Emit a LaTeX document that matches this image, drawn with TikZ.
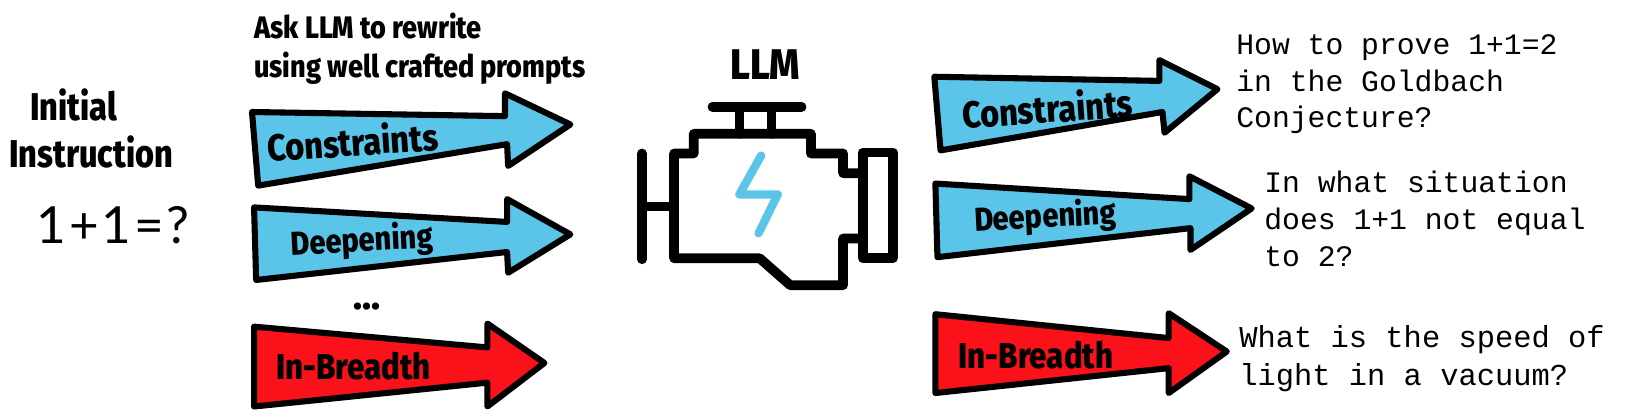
\documentclass[tikz,border=0pt]{standalone}
\usepackage{fontspec}
\setmainfont{Fira Sans}[BoldFont=* ExtraBold]
\newfontfamily\monof{Liberation Mono}
\newfontfamily\thinf{Lato}
\definecolor{skyb}{HTML}{5AC5E8}
\definecolor{redb}{HTML}{FB111A}
\tikzset{
  arrowblue/.style={draw=black,fill=skyb,line width=4.4pt,line join=round},
  arrowred/.style={draw=black,fill=redb,line width=4.4pt,line join=round},
  lab/.style={inner sep=0pt,text=black,font=\bfseries},
  mono/.style={inner sep=0pt,anchor=north west,align=left,text=black},
  eng/.style={draw=black,line width=7pt,line join=round,line cap=round},
  bolt/.style={draw=skyb,line width=6pt,line join=round,line cap=round},
}
\begin{document}
\begin{tikzpicture}[x=0.75pt,y=-0.75pt]
\useasboundingbox (0,0) rectangle (1568,401);
% left arrows
\draw[arrowblue] (243,108)--(487,112)--(487,90)--(550,120)--(490,160)--(489,139)--(249,179)--cycle;
\draw[arrowblue] (245,200)--(489,214)--(489,192)--(550,226)--(490,263)--(489,243)--(247,270)--cycle;
\draw[arrowred] (245,315)--(470,335)--(470,312)--(525,350)--(470,392)--(470,369)--(245,392)--cycle;
% right arrows
\draw[arrowblue] (901,74)--(1118,78)--(1118,58)--(1174,86)--(1123,128)--(1121,108)--(907,145)--cycle;
\draw[arrowblue] (902,177)--(1147,192)--(1147,170)--(1207,201)--(1148,241)--(1148,220)--(904,248)--cycle;
\draw[arrowred] (902,303)--(1127,326)--(1127,302)--(1183,339)--(1127,379)--(1127,355)--(902,379)--cycle;
% engine
\draw[eng] (619,148)--(619,250) (619,199)--(650,199);
\draw[eng] (832,167)--(813,167)--(813,148)--(782,148)--(782,129)--(669,129)--(669,148)--(650,148)--(650,249)--(732.5,249)--(762,275)--(813,275)--(813,230)--(832,230);
\draw[eng] (832,147) rectangle (861,249);
\draw[eng] (687,103)--(773,103) (713,103)--(713,129) (744,103)--(744,129);
\draw[bolt] (734,150)--(713,187.5)--(750,187.5)--(731.5,225);
% labels
\node[lab,rotate=4] (c1) at (340,136) {\fontsize{27}{27}\selectfont\scalebox{0.87}[1]{Constraints}};
\node[lab,rotate=3] (d1) at (349,233) {\fontsize{24}{24}\selectfont\scalebox{0.87}[1]{Deepening}};
\node[lab] (b1) at (341,353) {\fontsize{26}{26}\selectfont\scalebox{0.87}[1]{In-Breadth}};
\node[lab,rotate=4] (c2) at (1010,104) {\fontsize{27}{27}\selectfont\scalebox{0.87}[1]{Constraints}};
\node[lab,rotate=3] (d2) at (1008,210) {\fontsize{24}{24}\selectfont\scalebox{0.87}[1]{Deepening}};
\node[lab] (b2) at (999,342) {\fontsize{26}{26}\selectfont\scalebox{0.87}[1]{In-Breadth}};
\node[lab,anchor=base west] (ask) at (245,37) {\fontsize{22.5}{22.5}\selectfont\scalebox{0.87}[1]{Ask LLM to rewrite}};
\node[lab,anchor=base west] (use) at (245,75) {\fontsize{22.5}{22.5}\selectfont\scalebox{0.87}[1]{using well crafted prompts}};
\node[lab] (init) at (71,101) {\fontsize{28}{28}\selectfont\scalebox{0.84}[1]{Initial}};
\node[lab] (inst) at (88,147) {\fontsize{28}{28}\selectfont\scalebox{0.84}[1]{Instruction}};
\node[inner sep=0pt] (eq) at (109,217) {\thinf\fontsize{37}{37}\selectfont 1{\kern2pt}+{\kern2pt}1{\kern2pt}={\kern2pt}?};
\node[lab] (dots) at (354,296) {\fontsize{27}{27}\selectfont ...};
\node[lab] (llm) at (738,62) {\fontsize{31}{31}\selectfont\scalebox{0.9}[1]{LLM}};
\node[mono,font={\monof\fontsize{21.5}{26.5}\selectfont}] (q1) at (1192,33) {How to prove 1+1=2\\in the Goldbach\\Conjecture?};
\node[mono,font={\monof\fontsize{21.5}{26.5}\selectfont}] (q2) at (1219,165) {In what situation\\does 1+1 not equal\\to 2?};
\node[mono,font={\monof\fontsize{22}{27}\selectfont}] (q3) at (1195,314) {What is the speed of\\light in a vacuum?};
\end{tikzpicture}
\end{document}
